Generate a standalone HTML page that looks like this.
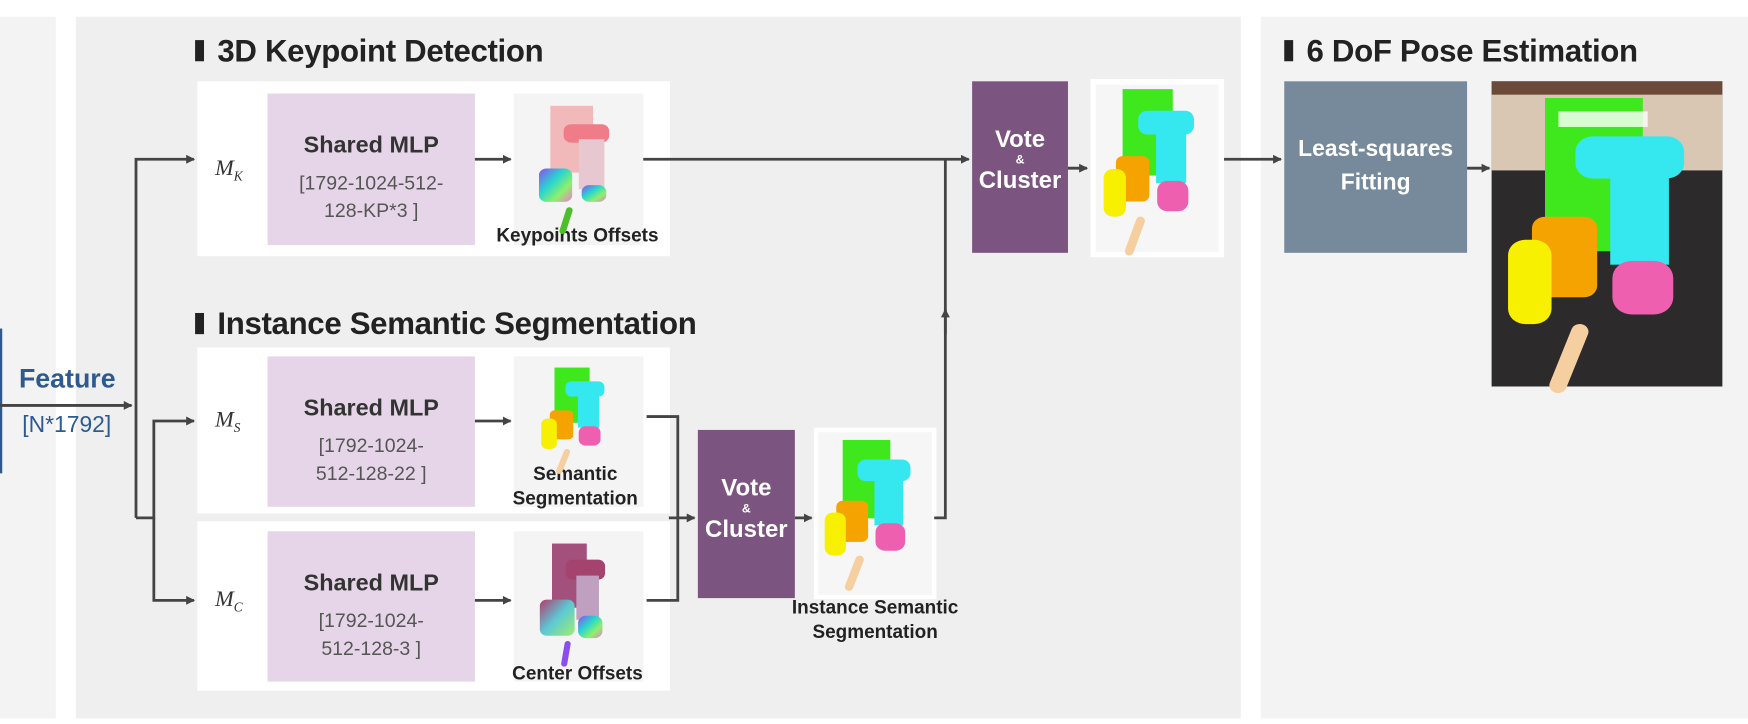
<!DOCTYPE html>
<html><head><meta charset="utf-8"><style>
html,body{margin:0;padding:0;background:#fff;}
#wrap{width:1748px;height:724px;overflow:hidden;position:relative;}
#s{position:absolute;left:0;top:0;width:1568px;height:650px;transform:scale(1.1148,1.1138);transform-origin:0 0;font-family:"Liberation Sans",Arial,sans-serif;}
.a{position:absolute;}
.title{font-weight:bold;font-size:28px;color:#222;letter-spacing:-0.3px;}
.title:before{content:"";display:inline-block;width:8px;height:19px;background:#222;margin-right:12px;vertical-align:0px;}
.wb{background:#fff;}
.mlp{background:#e6d5e8;text-align:center;color:#333;}
.mlp b{display:block;font-size:21px;color:#333;margin-top:35px;margin-bottom:9px;}
.mlp span{font-size:17.5px;color:#555;line-height:25px;}
.vc{background:#7b5580;color:#fff;font-weight:bold;text-align:center;font-size:21.5px;}
.lbl{font-weight:bold;font-size:17px;color:#222;text-align:center;}
.m{font-family:"Liberation Serif",serif;font-style:italic;font-size:20px;color:#333;}
.m sub{font-size:12px;}
</style></head><body><div id="wrap"><div id="s">
<div class="a" style="left:0;top:15px;width:50px;height:630px;background:#f3f3f3"></div>
<div class="a" style="left:68px;top:15px;width:1045px;height:630px;background:#efefef"></div>
<div class="a" style="left:1131px;top:15px;width:437px;height:630px;background:#f3f3f3"></div>

<div class="a title" style="left:175px;top:30px">3D Keypoint Detection</div>
<div class="a title" style="left:175px;top:275px">Instance Semantic Segmentation</div>
<div class="a title" style="left:1152px;top:30px">6 DoF Pose Estimation</div>

<div class="a wb" style="left:177px;top:73px;width:424px;height:157px"></div>
<div class="a wb" style="left:177px;top:312px;width:424px;height:149px"></div>
<div class="a wb" style="left:177px;top:468px;width:424px;height:152px"></div>

<div class="a mlp" style="left:240px;top:84px;width:186px;height:136px"><b>Shared MLP</b><span>[1792-1024-512-<br>128-KP*3 ]</span></div>
<div class="a mlp" style="left:240px;top:320px;width:186px;height:135px"><b>Shared MLP</b><span>[1792-1024-<br>512-128-22 ]</span></div>
<div class="a mlp" style="left:240px;top:477px;width:186px;height:135px"><b>Shared MLP</b><span>[1792-1024-<br>512-128-3 ]</span></div>

<div class="a m" style="left:193px;top:140px">M<sub>K</sub></div>
<div class="a m" style="left:193px;top:366px">M<sub>S</sub></div>
<div class="a m" style="left:193px;top:527px">M<sub>C</sub></div>

<div class="a" style="left:461px;top:84px;width:116px;height:136px;background:#f4f4f4"></div>
<div class="a" style="left:461px;top:320px;width:116px;height:135px;background:#f4f4f4"></div>
<div class="a" style="left:461px;top:477px;width:116px;height:135px;background:#f4f4f4"></div>
<div class="a lbl" style="left:433px;top:202px;width:170px">Keypoints Offsets</div>
<div class="a lbl" style="left:433px;top:415px;width:166px;line-height:22px">Semantic<br>Segmentation</div>
<div class="a lbl" style="left:433px;top:595px;width:170px">Center Offsets</div>

<div class="a vc" style="left:872px;top:73px;width:86px;height:154px"><div style="margin-top:40px">Vote</div><div style="font-size:11px">&amp;</div><div>Cluster</div></div>
<div class="a vc" style="left:626px;top:386px;width:87px;height:151px"><div style="margin-top:40px">Vote</div><div style="font-size:11px">&amp;</div><div>Cluster</div></div>
<div class="a wb" style="left:978px;top:71px;width:120px;height:160px"></div>
<div class="a" style="left:983px;top:76px;width:110px;height:150px;background:#f6f6f6"></div>
<div class="a wb" style="left:730px;top:384px;width:110px;height:154px"></div>
<div class="a" style="left:734px;top:388px;width:102px;height:146px;background:#f6f6f6"></div>
<div class="a lbl" style="left:690px;top:535px;width:190px;line-height:22px">Instance Semantic<br>Segmentation</div>

<div class="a" style="left:1152px;top:73px;width:164px;height:154px;background:#778a9b;color:#fff;font-weight:bold;font-size:20.5px;text-align:center;line-height:30px"><div style="margin-top:46px">Least-squares<br>Fitting</div></div>

<div class="a" style="left:0;top:295px;width:2px;height:130px;background:#2d5a91"></div>
<div class="a" style="left:17px;top:327px;font-weight:bold;font-size:24px;color:#2d5a91">Feature</div>
<div class="a" style="left:20px;top:370px;font-size:20.5px;color:#2d5a91">[N*1792]</div>

<svg class="a" style="left:0;top:0" width="1568" height="650">
<defs>
<marker id="ar" markerWidth="8" markerHeight="8" refX="7" refY="4" orient="auto" markerUnits="userSpaceOnUse"><path d="M0,0 L8,4 L0,8 z" fill="#444"/></marker>
<g id="obj">
<rect x="22" y="0" width="45" height="80" fill="#3ee81c"/>
<rect x="36" y="20" width="50" height="22" rx="8" fill="#35e8ef"/>
<rect x="52" y="35" width="27" height="52" fill="#35e8ef"/>
<rect x="16" y="62" width="30" height="42" rx="6" fill="#f5a300"/>
<rect x="5" y="74" width="20" height="44" rx="8" fill="#f7f000"/>
<rect x="53" y="85" width="28" height="28" rx="9" fill="#ef5fb0"/>
<line x1="38" y1="122" x2="28" y2="150" stroke="#f6cfa0" stroke-width="8" stroke-linecap="round"/>
</g>
<linearGradient id="rb" x1="0" y1="0" x2="1" y2="1"><stop offset="0" stop-color="#8d4bf0"/><stop offset=".4" stop-color="#29d6d0"/><stop offset=".7" stop-color="#8ef06a"/><stop offset="1" stop-color="#f27ad0"/></linearGradient>
<linearGradient id="rb2" x1="0" y1="0" x2="1" y2="1"><stop offset="0" stop-color="#b43a6e"/><stop offset=".5" stop-color="#5cc9d4"/><stop offset="1" stop-color="#9fef70"/></linearGradient>
</defs>
<g stroke="#444" stroke-width="2.5" fill="none">
<polyline points="0,364 118,364" marker-end="url(#ar)"/>
<polyline points="122,465 122,143 174,143" marker-end="url(#ar)"/>
<polyline points="122,465 138,465 138,378 174,378" marker-end="url(#ar)"/>
<polyline points="138,465 138,539 174,539" marker-end="url(#ar)"/>
<line x1="426" y1="143" x2="458" y2="143" marker-end="url(#ar)"/>
<line x1="426" y1="378" x2="458" y2="378" marker-end="url(#ar)"/>
<line x1="426" y1="539" x2="458" y2="539" marker-end="url(#ar)"/>
<line x1="577" y1="143" x2="869" y2="143" marker-end="url(#ar)"/>
<line x1="958" y1="151" x2="975" y2="151" marker-end="url(#ar)"/>
<line x1="1098" y1="143" x2="1149" y2="143" marker-end="url(#ar)"/>
<line x1="1316" y1="151" x2="1336" y2="151" marker-end="url(#ar)"/>
<polyline points="580,374 608,374 608,539 580,539"/>
<line x1="600" y1="465" x2="623" y2="465" marker-end="url(#ar)"/>
<line x1="713" y1="465" x2="728" y2="465" marker-end="url(#ar)"/>
<polyline points="838,465 848,465 848,143"/>
<line x1="848" y1="300" x2="848" y2="278" marker-end="url(#ar)"/>
</g>
<g transform="translate(475,95) scale(0.85,0.75)"><rect x="22" y="0" width="45" height="80" fill="#f0a0a0" opacity=".7"/><rect x="36" y="22" width="48" height="22" rx="8" fill="#f07c8a"/><rect x="52" y="40" width="27" height="60" fill="#e8c8d0"/><rect x="10" y="75" width="35" height="40" rx="8" fill="url(#rb)"/><rect x="55" y="95" width="26" height="20" rx="8" fill="url(#rb)"/><line x1="42" y1="125" x2="35" y2="150" stroke="#4cbf2a" stroke-width="7" stroke-linecap="round"/></g>
<g transform="translate(482,330) scale(0.7,0.62)"><use href="#obj"/></g>
<g transform="translate(478,488) scale(0.78,0.72)"><rect x="22" y="0" width="40" height="80" fill="#a4507c"/><rect x="38" y="20" width="45" height="25" rx="8" fill="#a3436e"/><rect x="50" y="40" width="26" height="55" fill="#c0a0c0"/><rect x="8" y="70" width="40" height="45" rx="8" fill="url(#rb2)"/><rect x="52" y="90" width="28" height="28" rx="9" fill="url(#rb)"/><line x1="40" y1="125" x2="36" y2="150" stroke="#8a4ef0" stroke-width="7" stroke-linecap="round"/></g>
<g transform="translate(985,80) scale(1.0,0.97)"><use href="#obj"/></g>
<g transform="translate(735,395) scale(0.95,0.88)"><use href="#obj"/></g>
<rect x="1338" y="73" width="207" height="274" fill="#2d2a2c"/>
<rect x="1338" y="73" width="207" height="80" fill="#d9c7b4"/>
<rect x="1338" y="73" width="207" height="12" fill="#6b4a3a"/>
<g transform="translate(1343,88) scale(1.95,1.72)"><use href="#obj"/></g>
<rect x="1398" y="100" width="80" height="14" fill="#fff" opacity=".8"/>
</svg>
</div></div></body></html>
